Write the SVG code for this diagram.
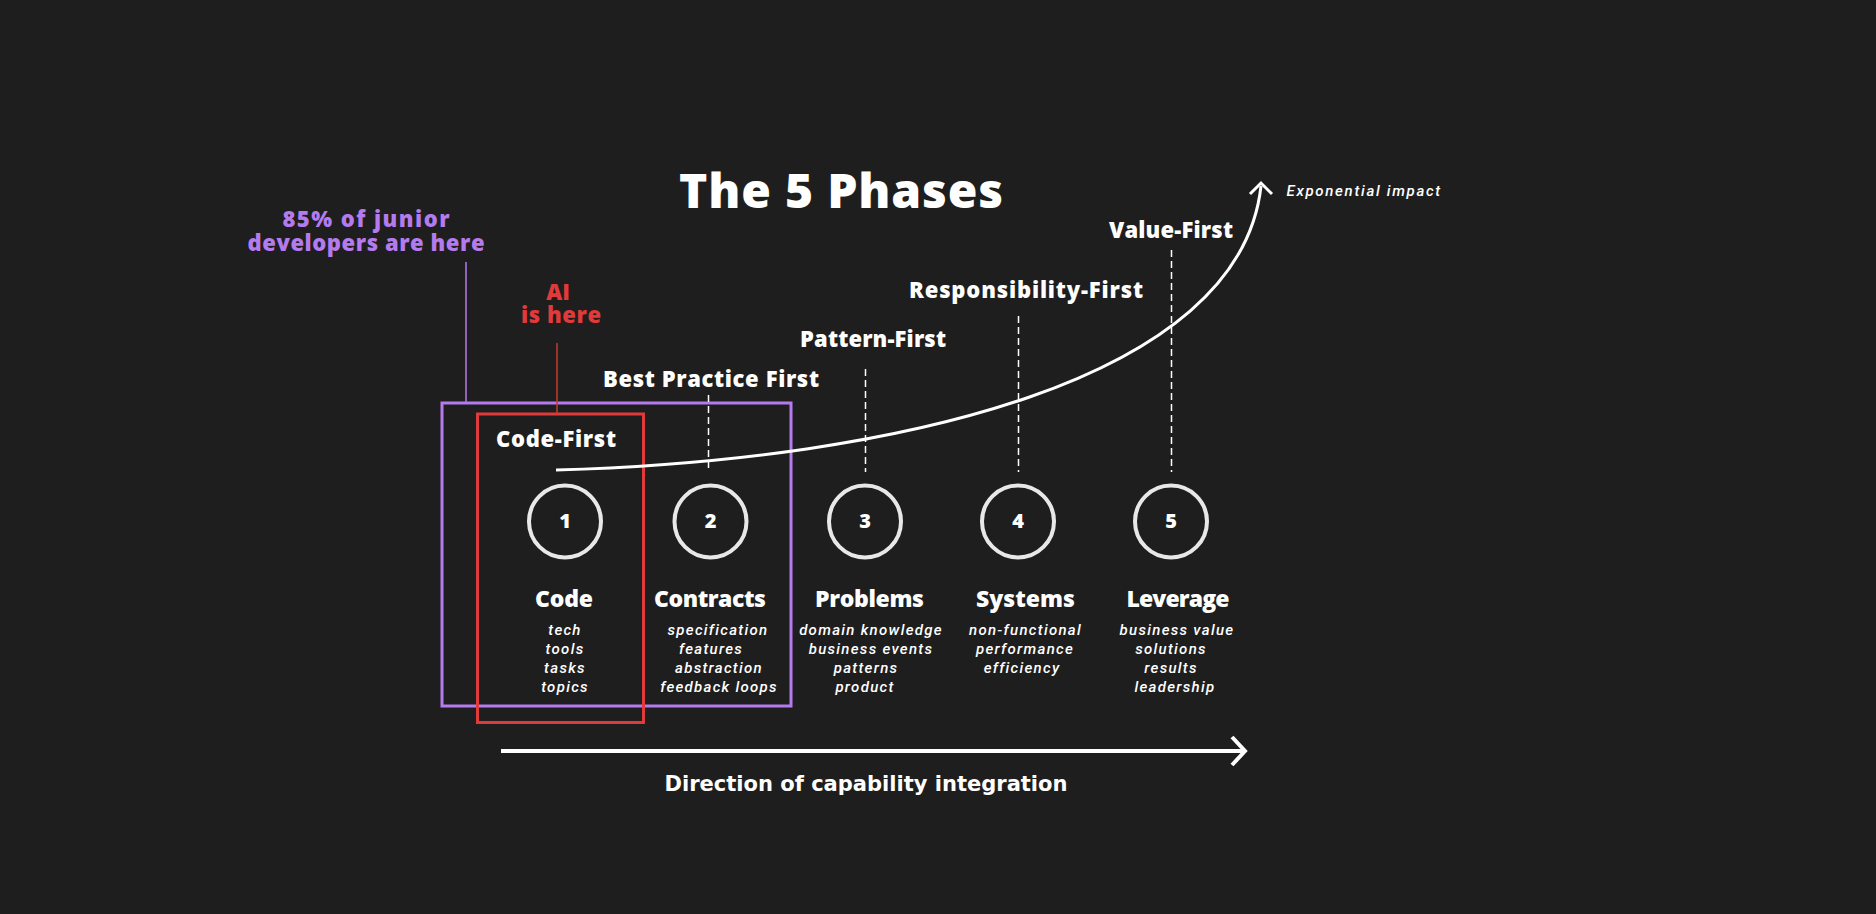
<svg xmlns="http://www.w3.org/2000/svg" width="1876" height="914" viewBox="0 0 1876 914">
<defs>
<style>
.bg{fill:#1e1e1e}
.disp{font-family:"Open Sans","DejaVu Sans",sans-serif;font-weight:800;fill:#ffffff;text-anchor:middle}
.title{font-family:"Open Sans","DejaVu Sans",sans-serif;font-weight:800;font-size:48px;fill:#ffffff;text-anchor:middle}
.lbl{font-size:22px}
.hdr{font-size:23px}
.num{font-family:"Open Sans","DejaVu Sans",sans-serif;font-weight:800;font-size:20px;fill:#ffffff;text-anchor:middle}
.sub{font-family:Roboto,"Noto Sans",sans-serif;font-style:italic;font-weight:500;font-size:15px;letter-spacing:1.3px;fill:#ffffff;text-anchor:middle}
.ring{fill:none;stroke:#e8e8e8;stroke-width:4}
.dash{stroke:#ffffff;stroke-width:1.5;stroke-dasharray:7 4;fill:none}
.purple{fill:#b57bee}
.red{fill:#e03a3a}
.dir{font-family:"Liberation Sans Narrow","DejaVu Sans Condensed","Liberation Sans",sans-serif;font-weight:bold;font-size:22px;fill:#ffffff;text-anchor:middle}
</style>
</defs>
<rect class="bg" x="0" y="0" width="1876" height="914"/>

<text class="title" x="841" y="208" textLength="324">The 5 Phases</text>

<g id="junior-annotation">
<text class="disp lbl purple"><tspan x="366" y="227" textLength="167">85% of junior</tspan><tspan x="366" y="251" textLength="237">developers are here</tspan></text>
<rect x="442" y="403" width="349" height="303" fill="none" stroke="#b57bee" stroke-width="3"/>
</g>

<g id="ai-annotation">
<text class="disp lbl red"><tspan x="558" y="300">AI</tspan><tspan x="561" y="323" textLength="80">is here</tspan></text>
<rect x="477.5" y="414" width="166" height="308.5" fill="none" stroke="#e03a3a" stroke-width="3"/>
</g>

<g id="connectors">
<line x1="466" y1="262" x2="466" y2="403" stroke="#b57bee" stroke-width="1.5"/>
<line x1="557" y1="343" x2="557" y2="414" stroke="#c83a2a" stroke-width="1.5"/>
<line class="dash" x1="708.5" y1="395" x2="708.5" y2="472"/>
<line class="dash" x1="865.5" y1="369" x2="865.5" y2="472"/>
<line class="dash" x1="1018.5" y1="316" x2="1018.5" y2="472"/>
<line class="dash" x1="1171.5" y1="250" x2="1171.5" y2="472"/>
<path d="M556,470 C900,460 1240,380 1261,186" fill="none" stroke="#ffffff" stroke-width="3"/>
<path d="M1250,194 L1261,183 L1272,194" fill="none" stroke="#ffffff" stroke-width="3"/>
<line x1="501" y1="751" x2="1244" y2="751" stroke="#ffffff" stroke-width="4"/>
<path d="M1232,737 L1245,751 L1232,765" fill="none" stroke="#ffffff" stroke-width="4"/>
</g>

<text class="sub" x="1364" y="196" textLength="155">Exponential impact</text>
<text class="dir" x="866" y="791" textLength="403" lengthAdjust="spacingAndGlyphs">Direction of capability integration</text>

<g id="phase1">
<text class="disp lbl" x="556" y="447" font-size="24" textLength="120">Code-First</text>
<circle class="ring" cx="565" cy="521.5" r="36"/>
<text class="num" x="565" y="528">1</text>
<text class="disp hdr" x="564" y="607" textLength="58">Code</text>
<text class="sub" x="565" y="635">tech</text>
<text class="sub" x="565" y="654">tools</text>
<text class="sub" x="565" y="673">tasks</text>
<text class="sub" x="565" y="692">topics</text>
</g>

<g id="phase2">
<text class="disp lbl" x="711" y="387" textLength="216">Best Practice First</text>
<circle class="ring" cx="710.5" cy="521.5" r="36"/>
<text class="num" x="710.5" y="528">2</text>
<text class="disp hdr" x="710" y="607" textLength="112">Contracts</text>
<text class="sub" x="718" y="635">specification</text>
<text class="sub" x="711" y="654">features</text>
<text class="sub" x="719" y="673">abstraction</text>
<text class="sub" x="719" y="692">feedback loops</text>
</g>

<g id="phase3">
<text class="disp lbl" x="873" y="347" textLength="146">Pattern-First</text>
<circle class="ring" cx="865" cy="521.5" r="36"/>
<text class="num" x="865" y="528">3</text>
<text class="disp hdr" x="869.5" y="607" textLength="109">Problems</text>
<text class="sub" x="871" y="635">domain knowledge</text>
<text class="sub" x="871" y="654">business events</text>
<text class="sub" x="866" y="673">patterns</text>
<text class="sub" x="865" y="692">product</text>
</g>

<g id="phase4">
<text class="disp lbl" x="1026" y="298" textLength="234">Responsibility-First</text>
<circle class="ring" cx="1018" cy="521.5" r="36"/>
<text class="num" x="1018" y="528">4</text>
<text class="disp hdr" x="1025.5" y="607" textLength="99">Systems</text>
<text class="sub" x="1025.5" y="635">non-functional</text>
<text class="sub" x="1025" y="654">performance</text>
<text class="sub" x="1022" y="673">efficiency</text>
</g>

<g id="phase5">
<text class="disp lbl" x="1171" y="238" textLength="124">Value-First</text>
<circle class="ring" cx="1171" cy="521.5" r="36"/>
<text class="num" x="1171" y="528">5</text>
<text class="disp hdr" x="1178" y="607" textLength="103">Leverage</text>
<text class="sub" x="1177" y="635">business value</text>
<text class="sub" x="1171" y="654">solutions</text>
<text class="sub" x="1171" y="673">results</text>
<text class="sub" x="1175" y="692">leadership</text>
</g>
</svg>
